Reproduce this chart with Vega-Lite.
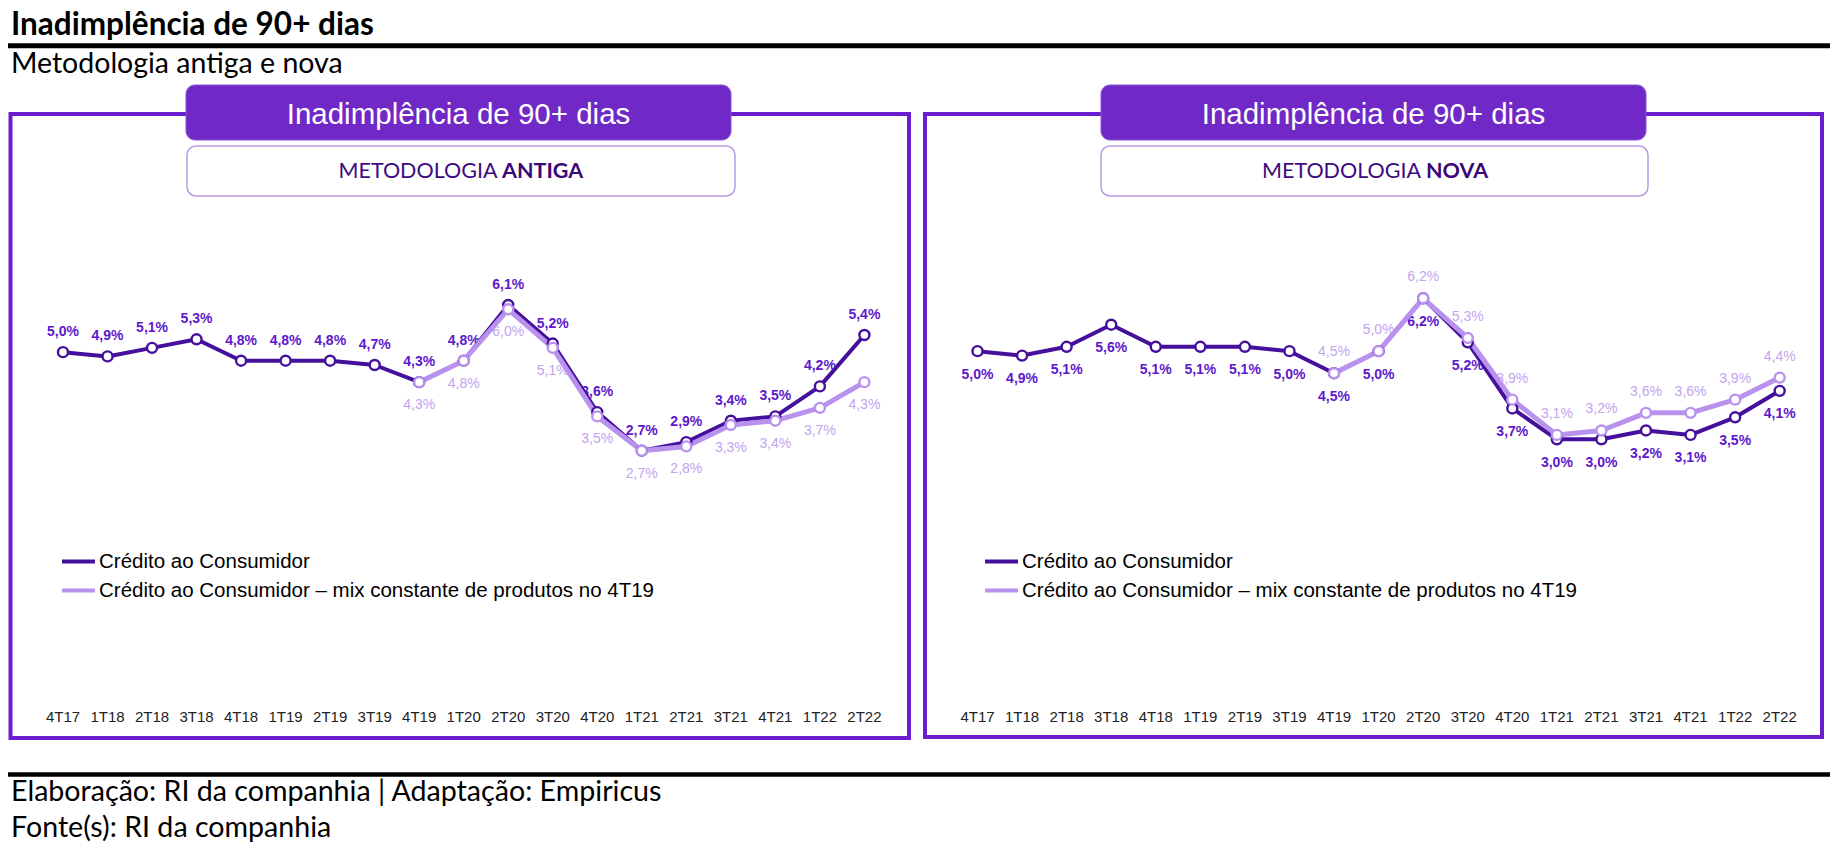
{
  "$schema": "https://vega.github.io/schema/vega-lite/v6.json",
  "width": 1838,
  "height": 854,
  "autosize": {"type": "fit", "contains": "padding"},
  "padding": 0,
  "background": "white",
  "config": {
    "view": {"stroke": null},
    "locale": {"number": {"decimal": ",", "thousands": ".", "grouping": [3], "currency": ["R$", ""]}}
  },
  "datasets": {
    "pts": [
      {"m": "antiga", "q": "4T17", "s": "Crédito ao Consumidor", "v": 0.050},
      {"m": "antiga", "q": "1T18", "s": "Crédito ao Consumidor", "v": 0.049},
      {"m": "antiga", "q": "2T18", "s": "Crédito ao Consumidor", "v": 0.051},
      {"m": "antiga", "q": "3T18", "s": "Crédito ao Consumidor", "v": 0.053},
      {"m": "antiga", "q": "4T18", "s": "Crédito ao Consumidor", "v": 0.048},
      {"m": "antiga", "q": "1T19", "s": "Crédito ao Consumidor", "v": 0.048},
      {"m": "antiga", "q": "2T19", "s": "Crédito ao Consumidor", "v": 0.048},
      {"m": "antiga", "q": "3T19", "s": "Crédito ao Consumidor", "v": 0.047},
      {"m": "antiga", "q": "4T19", "s": "Crédito ao Consumidor", "v": 0.043},
      {"m": "antiga", "q": "1T20", "s": "Crédito ao Consumidor", "v": 0.048},
      {"m": "antiga", "q": "2T20", "s": "Crédito ao Consumidor", "v": 0.061},
      {"m": "antiga", "q": "3T20", "s": "Crédito ao Consumidor", "v": 0.052},
      {"m": "antiga", "q": "4T20", "s": "Crédito ao Consumidor", "v": 0.036},
      {"m": "antiga", "q": "1T21", "s": "Crédito ao Consumidor", "v": 0.027},
      {"m": "antiga", "q": "2T21", "s": "Crédito ao Consumidor", "v": 0.029},
      {"m": "antiga", "q": "3T21", "s": "Crédito ao Consumidor", "v": 0.034},
      {"m": "antiga", "q": "4T21", "s": "Crédito ao Consumidor", "v": 0.035},
      {"m": "antiga", "q": "1T22", "s": "Crédito ao Consumidor", "v": 0.042},
      {"m": "antiga", "q": "2T22", "s": "Crédito ao Consumidor", "v": 0.054},
      {"m": "antiga", "q": "4T19", "s": "Crédito ao Consumidor – mix constante de produtos no 4T19", "v": 0.043},
      {"m": "antiga", "q": "1T20", "s": "Crédito ao Consumidor – mix constante de produtos no 4T19", "v": 0.048},
      {"m": "antiga", "q": "2T20", "s": "Crédito ao Consumidor – mix constante de produtos no 4T19", "v": 0.060},
      {"m": "antiga", "q": "3T20", "s": "Crédito ao Consumidor – mix constante de produtos no 4T19", "v": 0.051},
      {"m": "antiga", "q": "4T20", "s": "Crédito ao Consumidor – mix constante de produtos no 4T19", "v": 0.035},
      {"m": "antiga", "q": "1T21", "s": "Crédito ao Consumidor – mix constante de produtos no 4T19", "v": 0.027},
      {"m": "antiga", "q": "2T21", "s": "Crédito ao Consumidor – mix constante de produtos no 4T19", "v": 0.028},
      {"m": "antiga", "q": "3T21", "s": "Crédito ao Consumidor – mix constante de produtos no 4T19", "v": 0.033},
      {"m": "antiga", "q": "4T21", "s": "Crédito ao Consumidor – mix constante de produtos no 4T19", "v": 0.034},
      {"m": "antiga", "q": "1T22", "s": "Crédito ao Consumidor – mix constante de produtos no 4T19", "v": 0.037},
      {"m": "antiga", "q": "2T22", "s": "Crédito ao Consumidor – mix constante de produtos no 4T19", "v": 0.043},
      {"m": "nova", "q": "4T17", "s": "Crédito ao Consumidor", "v": 0.050},
      {"m": "nova", "q": "1T18", "s": "Crédito ao Consumidor", "v": 0.049},
      {"m": "nova", "q": "2T18", "s": "Crédito ao Consumidor", "v": 0.051},
      {"m": "nova", "q": "3T18", "s": "Crédito ao Consumidor", "v": 0.056},
      {"m": "nova", "q": "4T18", "s": "Crédito ao Consumidor", "v": 0.051},
      {"m": "nova", "q": "1T19", "s": "Crédito ao Consumidor", "v": 0.051},
      {"m": "nova", "q": "2T19", "s": "Crédito ao Consumidor", "v": 0.051},
      {"m": "nova", "q": "3T19", "s": "Crédito ao Consumidor", "v": 0.050},
      {"m": "nova", "q": "4T19", "s": "Crédito ao Consumidor", "v": 0.045},
      {"m": "nova", "q": "1T20", "s": "Crédito ao Consumidor", "v": 0.050},
      {"m": "nova", "q": "2T20", "s": "Crédito ao Consumidor", "v": 0.062},
      {"m": "nova", "q": "3T20", "s": "Crédito ao Consumidor", "v": 0.052},
      {"m": "nova", "q": "4T20", "s": "Crédito ao Consumidor", "v": 0.037},
      {"m": "nova", "q": "1T21", "s": "Crédito ao Consumidor", "v": 0.030},
      {"m": "nova", "q": "2T21", "s": "Crédito ao Consumidor", "v": 0.030},
      {"m": "nova", "q": "3T21", "s": "Crédito ao Consumidor", "v": 0.032},
      {"m": "nova", "q": "4T21", "s": "Crédito ao Consumidor", "v": 0.031},
      {"m": "nova", "q": "1T22", "s": "Crédito ao Consumidor", "v": 0.035},
      {"m": "nova", "q": "2T22", "s": "Crédito ao Consumidor", "v": 0.041},
      {"m": "nova", "q": "4T19", "s": "Crédito ao Consumidor – mix constante de produtos no 4T19", "v": 0.045},
      {"m": "nova", "q": "1T20", "s": "Crédito ao Consumidor – mix constante de produtos no 4T19", "v": 0.050},
      {"m": "nova", "q": "2T20", "s": "Crédito ao Consumidor – mix constante de produtos no 4T19", "v": 0.062},
      {"m": "nova", "q": "3T20", "s": "Crédito ao Consumidor – mix constante de produtos no 4T19", "v": 0.053},
      {"m": "nova", "q": "4T20", "s": "Crédito ao Consumidor – mix constante de produtos no 4T19", "v": 0.039},
      {"m": "nova", "q": "1T21", "s": "Crédito ao Consumidor – mix constante de produtos no 4T19", "v": 0.031},
      {"m": "nova", "q": "2T21", "s": "Crédito ao Consumidor – mix constante de produtos no 4T19", "v": 0.032},
      {"m": "nova", "q": "3T21", "s": "Crédito ao Consumidor – mix constante de produtos no 4T19", "v": 0.036},
      {"m": "nova", "q": "4T21", "s": "Crédito ao Consumidor – mix constante de produtos no 4T19", "v": 0.036},
      {"m": "nova", "q": "1T22", "s": "Crédito ao Consumidor – mix constante de produtos no 4T19", "v": 0.039},
      {"m": "nova", "q": "2T22", "s": "Crédito ao Consumidor – mix constante de produtos no 4T19", "v": 0.044}
    ]
  },
  "layer": [
    {
      "data": {"values": [{"t": "Inadimplência de 90+ dias"}]},
      "mark": {"type": "text", "font": "Lato", "fontWeight": "bold", "fontSize": 31.5, "color": "#000000", "align": "left", "baseline": "alphabetic"},
      "encoding": {"x": {"value": 11}, "y": {"value": 34.5}, "text": {"field": "t"}}
    },
    {
      "data": {"values": [{"t": "Metodologia antiga e nova"}]},
      "mark": {"type": "text", "font": "Lato", "fontSize": 28.5, "color": "#000000", "align": "left", "baseline": "alphabetic"},
      "encoding": {"x": {"value": 11}, "y": {"value": 73}, "text": {"field": "t"}}
    },
    {
      "data": {"values": [{"r": "topo"}]},
      "mark": {"type": "rule", "stroke": "#000000", "strokeWidth": 5},
      "encoding": {"x": {"value": 8}, "x2": {"value": 1830}, "y": {"value": 45.8}}
    },
    {
      "data": {"values": [{"r": "base"}]},
      "mark": {"type": "rule", "stroke": "#000000", "strokeWidth": 4.5},
      "encoding": {"x": {"value": 8}, "x2": {"value": 1830}, "y": {"value": 774.5}}
    },
    {
      "data": {"values": [{"t": "Elaboração: RI da companhia | Adaptação: Empiricus"}]},
      "mark": {"type": "text", "font": "Lato", "fontSize": 28.6, "color": "#000000", "align": "left", "baseline": "alphabetic"},
      "encoding": {"x": {"value": 11}, "y": {"value": 801}, "text": {"field": "t"}}
    },
    {
      "data": {"values": [{"t": "Fonte(s): RI da companhia"}]},
      "mark": {"type": "text", "font": "Lato", "fontSize": 28.6, "color": "#000000", "align": "left", "baseline": "alphabetic"},
      "encoding": {"x": {"value": 11}, "y": {"value": 837}, "text": {"field": "t"}}
    },
    {
      "data": {"values": [{"p": "antiga"}]},
      "mark": {"type": "rect", "filled": false, "stroke": "#6a1ed0", "strokeWidth": 4},
      "encoding": {"x": {"value": 10.5}, "x2": {"value": 909}, "y": {"value": 114}, "y2": {"value": 738}}
    },
    {
      "data": {"values": [{"p": "nova"}]},
      "mark": {"type": "rect", "filled": false, "stroke": "#6a1ed0", "strokeWidth": 4},
      "encoding": {"x": {"value": 925}, "x2": {"value": 1822}, "y": {"value": 114}, "y2": {"value": 737}}
    },
    {
      "data": {"values": [{"p": "antiga"}]},
      "mark": {"type": "rect", "fill": "#7029c6", "stroke": "#8a52d8", "strokeWidth": 1, "cornerRadius": 9},
      "encoding": {"x": {"value": 186}, "x2": {"value": 731}, "y": {"value": 85}, "y2": {"value": 140}}
    },
    {
      "data": {"values": [{"p": "nova"}]},
      "mark": {"type": "rect", "fill": "#7029c6", "stroke": "#8a52d8", "strokeWidth": 1, "cornerRadius": 9},
      "encoding": {"x": {"value": 1101}, "x2": {"value": 1646}, "y": {"value": 85}, "y2": {"value": 140}}
    },
    {
      "data": {"values": [{"p": "antiga"}]},
      "mark": {"type": "rect", "fill": "#ffffff", "stroke": "#b69be3", "strokeWidth": 1.5, "cornerRadius": 9},
      "encoding": {"x": {"value": 187}, "x2": {"value": 735}, "y": {"value": 146}, "y2": {"value": 196}}
    },
    {
      "data": {"values": [{"p": "nova"}]},
      "mark": {"type": "rect", "fill": "#ffffff", "stroke": "#b69be3", "strokeWidth": 1.5, "cornerRadius": 9},
      "encoding": {"x": {"value": 1101}, "x2": {"value": 1648}, "y": {"value": 146}, "y2": {"value": 196}}
    },
    {
      "data": {"values": [{"t": "Inadimplência de 90+ dias"}]},
      "mark": {"type": "text", "font": "Liberation Sans", "fontSize": 29.5, "color": "#ffffff", "align": "center", "baseline": "alphabetic"},
      "encoding": {"x": {"value": 458.5}, "y": {"value": 123.5}, "text": {"field": "t"}}
    },
    {
      "data": {"values": [{"t": "Inadimplência de 90+ dias"}]},
      "mark": {"type": "text", "font": "Liberation Sans", "fontSize": 29.5, "color": "#ffffff", "align": "center", "baseline": "alphabetic"},
      "encoding": {"x": {"value": 1373.5}, "y": {"value": 123.5}, "text": {"field": "t"}}
    },
    {
      "data": {"values": [{"t": "METODOLOGIA"}]},
      "mark": {"type": "text", "font": "Lato", "fontSize": 21.5, "color": "#3d0b80", "align": "right", "baseline": "alphabetic"},
      "encoding": {"x": {"value": 497.5}, "y": {"value": 178}, "text": {"field": "t"}}
    },
    {
      "data": {"values": [{"t": "ANTIGA"}]},
      "mark": {"type": "text", "font": "Lato", "fontWeight": "bold", "fontSize": 21.5, "color": "#3a0878", "align": "left", "baseline": "alphabetic"},
      "encoding": {"x": {"value": 502}, "y": {"value": 178}, "text": {"field": "t"}}
    },
    {
      "data": {"values": [{"t": "METODOLOGIA"}]},
      "mark": {"type": "text", "font": "Lato", "fontSize": 21.5, "color": "#3d0b80", "align": "right", "baseline": "alphabetic"},
      "encoding": {"x": {"value": 1421}, "y": {"value": 178}, "text": {"field": "t"}}
    },
    {
      "data": {"values": [{"t": "NOVA"}]},
      "mark": {"type": "text", "font": "Lato", "fontWeight": "bold", "fontSize": 21.5, "color": "#3a0878", "align": "left", "baseline": "alphabetic"},
      "encoding": {"x": {"value": 1426}, "y": {"value": 178}, "text": {"field": "t"}}
    },
    {
      "data": {"name": "pts"},
      "transform": [{"filter": "datum.m === 'antiga'"}],
      "encoding": {
        "x": {"field": "q", "type": "ordinal", "sort": ["4T17", "1T18", "2T18", "3T18", "4T18", "1T19", "2T19", "3T19", "4T19", "1T20", "2T20", "3T20", "4T20", "1T21", "2T21", "3T21", "4T21", "1T22", "2T22"], "scale": {"type": "point", "range": [63, 864.4], "padding": 0}, "axis": null},
        "y": {"field": "v", "type": "quantitative", "scale": {"domain": [0.027, 0.061], "range": [450.7, 305], "zero": false, "nice": false}, "axis": null}
      },
      "layer": [
        {
          "transform": [{"filter": "datum.s === 'Crédito ao Consumidor'"}],
          "mark": {"type": "text", "dy": -20, "font": "Liberation Sans", "fontWeight": "bold", "fontSize": 14, "color": "#5e18cc"},
          "encoding": {"text": {"field": "v", "type": "quantitative", "format": ".1%"}}
        },
        {
          "transform": [{"filter": "datum.s !== 'Crédito ao Consumidor'"}],
          "mark": {"type": "text", "dy": 23, "font": "Liberation Sans", "fontSize": 14, "color": "#c2a4f0"},
          "encoding": {"text": {"field": "v", "type": "quantitative", "format": ".1%"}}
        },
        {
          "transform": [{"filter": "datum.s === 'Crédito ao Consumidor'"}],
          "mark": {"type": "text", "font": "Liberation Sans Narrow, Liberation Sans", "fontSize": 15, "color": "#222222", "baseline": "alphabetic"},
          "encoding": {"y": {"value": 722}, "text": {"field": "q"}}
        },
        {
          "transform": [{"filter": "datum.s === 'Crédito ao Consumidor'"}],
          "mark": {"type": "line", "strokeWidth": 4, "strokeJoin": "round"},
          "encoding": {
            "color": {"field": "s", "type": "nominal", "scale": {"domain": ["Crédito ao Consumidor", "Crédito ao Consumidor – mix constante de produtos no 4T19"], "range": ["#44109c", "#b892ec"]},
              "legend": {"title": null, "orient": "none", "legendX": 60, "legendY": 543, "symbolType": "stroke", "symbolStrokeWidth": 4, "symbolSize": 1089, "labelFont": "Liberation Sans", "labelFontSize": 20.5, "labelColor": "#000000", "labelLimit": 0, "labelOffset": 2, "rowPadding": 0, "padding": 0}}
          }
        },
        {
          "transform": [{"filter": "datum.s !== 'Crédito ao Consumidor'"}],
          "mark": {"type": "line", "strokeWidth": 5, "strokeJoin": "round"},
          "encoding": {"color": {"field": "s", "type": "nominal"}}
        },
        {
          "transform": [{"filter": "datum.s === 'Crédito ao Consumidor'"}],
          "mark": {"type": "circle", "size": 100, "fill": "#ffffff", "stroke": "#44109c", "strokeWidth": 2.4, "opacity": 1}
        },
        {
          "transform": [{"filter": "datum.s !== 'Crédito ao Consumidor'"}],
          "mark": {"type": "circle", "size": 100, "fill": "#ffffff", "stroke": "#b892ec", "strokeWidth": 2.4, "opacity": 1}
        }
      ]
    },
    {
      "data": {"name": "pts"},
      "transform": [{"filter": "datum.m === 'nova'"}],
      "encoding": {
        "x": {"field": "q", "type": "ordinal", "sort": ["4T17", "1T18", "2T18", "3T18", "4T18", "1T19", "2T19", "3T19", "4T19", "1T20", "2T20", "3T20", "4T20", "1T21", "2T21", "3T21", "4T21", "1T22", "2T22"], "scale": {"type": "point", "range": [977.5, 1779.7], "padding": 0}, "axis": null},
        "y": {"field": "v", "type": "quantitative", "scale": {"domain": [0.030, 0.062], "range": [439.3, 298.3], "zero": false, "nice": false}, "axis": null}
      },
      "layer": [
        {
          "transform": [{"filter": "datum.s === 'Crédito ao Consumidor'"}],
          "mark": {"type": "text", "dy": 23.5, "font": "Liberation Sans", "fontWeight": "bold", "fontSize": 14, "color": "#5e18cc"},
          "encoding": {"text": {"field": "v", "type": "quantitative", "format": ".1%"}}
        },
        {
          "transform": [{"filter": "datum.s !== 'Crédito ao Consumidor'"}],
          "mark": {"type": "text", "dy": -21, "font": "Liberation Sans", "fontSize": 14, "color": "#c2a4f0"},
          "encoding": {"text": {"field": "v", "type": "quantitative", "format": ".1%"}}
        },
        {
          "transform": [{"filter": "datum.s === 'Crédito ao Consumidor'"}],
          "mark": {"type": "text", "font": "Liberation Sans Narrow, Liberation Sans", "fontSize": 15, "color": "#222222", "baseline": "alphabetic"},
          "encoding": {"y": {"value": 722}, "text": {"field": "q"}}
        },
        {
          "transform": [{"filter": "datum.s === 'Crédito ao Consumidor'"}],
          "mark": {"type": "line", "strokeWidth": 4, "strokeJoin": "round"},
          "encoding": {
            "color": {"field": "s", "type": "nominal", "scale": {"domain": ["Crédito ao Consumidor", "Crédito ao Consumidor – mix constante de produtos no 4T19"], "range": ["#44109c", "#b892ec"]},
              "legend": {"title": null, "orient": "none", "legendX": 983, "legendY": 543, "symbolType": "stroke", "symbolStrokeWidth": 4, "symbolSize": 1089, "labelFont": "Liberation Sans", "labelFontSize": 20.5, "labelColor": "#000000", "labelLimit": 0, "labelOffset": 2, "rowPadding": 0, "padding": 0}}
          }
        },
        {
          "transform": [{"filter": "datum.s !== 'Crédito ao Consumidor'"}],
          "mark": {"type": "line", "strokeWidth": 5, "strokeJoin": "round"},
          "encoding": {"color": {"field": "s", "type": "nominal"}}
        },
        {
          "transform": [{"filter": "datum.s === 'Crédito ao Consumidor'"}],
          "mark": {"type": "circle", "size": 100, "fill": "#ffffff", "stroke": "#44109c", "strokeWidth": 2.4, "opacity": 1}
        },
        {
          "transform": [{"filter": "datum.s !== 'Crédito ao Consumidor'"}],
          "mark": {"type": "circle", "size": 100, "fill": "#ffffff", "stroke": "#b892ec", "strokeWidth": 2.4, "opacity": 1}
        }
      ]
    }
  ],
  "resolve": {"scale": {"x": "independent", "y": "independent", "color": "independent"}, "legend": {"color": "independent"}}
}
